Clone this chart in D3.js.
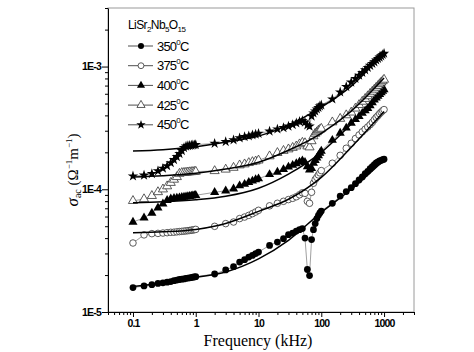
<!DOCTYPE html>
<html>
<head>
<meta charset="utf-8">
<script src="https://cdn.jsdelivr.net/npm/d3@7"></script>
<style>
  body { margin: 0; background: #fff; }
  svg { display: block; }
</style>
</head>
<body>
<svg id="chart" width="474" height="352"></svg>
<script>
// frequency (kHz), shared by all temperatures
const freq = [0.1, 0.15, 0.2, 0.25, 0.3, 0.35, 0.4, 0.45, 0.5, 0.55, 0.6, 0.65, 0.7, 0.75, 0.8, 0.85, 0.9, 0.95, 1,
  2, 3, 4, 5, 6, 7, 8, 9, 10,
  15, 20, 25, 30, 35, 40, 45, 50, 55, 60, 65, 70, 75, 80, 85, 90, 95, 100,
  150, 200, 250, 300, 350, 400, 450, 500, 550, 600, 650, 700, 750, 800, 850, 900, 950, 1000];

// sigma_ac (ohm^-1 m^-1)
const sigma350 = [1.58e-5, 1.63e-5, 1.67e-5, 1.71e-5, 1.73e-5, 1.75e-5, 1.77e-5, 1.80e-5, 1.82e-5, 1.84e-5, 1.85e-5, 1.86e-5, 1.88e-5, 1.89e-5, 1.90e-5, 1.91e-5, 1.92e-5, 1.93e-5, 1.94e-5,
  2.04e-5, 2.20e-5, 2.34e-5, 2.55e-5, 2.67e-5, 2.80e-5, 2.89e-5, 2.99e-5, 3.08e-5,
  3.49e-5, 3.71e-5, 3.96e-5, 4.27e-5, 4.40e-5, 4.57e-5, 4.69e-5, 4.78e-5, 4.00e-5, 2.22e-5, 1.98e-5, 3.89e-5, 4.69e-5, 5.25e-5, 5.77e-5, 6.13e-5, 6.41e-5, 6.65e-5,
  7.68e-5, 8.80e-5, 9.58e-5, 1.03e-4, 1.11e-4, 1.19e-4, 1.26e-4, 1.34e-4, 1.40e-4, 1.47e-4, 1.53e-4, 1.59e-4, 1.64e-4, 1.67e-4, 1.70e-4, 1.72e-4, 1.74e-4, 1.76e-4];
const sigma375 = [3.65e-5, 4.25e-5, 4.35e-5, 4.37e-5, 4.40e-5, 4.43e-5, 4.46e-5, 4.47e-5, 4.50e-5, 4.52e-5, 4.54e-5, 4.56e-5, 4.58e-5, 4.60e-5, 4.62e-5, 4.64e-5, 4.66e-5, 4.69e-5, 4.71e-5,
  4.99e-5, 5.25e-5, 5.41e-5, 5.77e-5, 5.94e-5, 6.13e-5, 6.33e-5, 6.53e-5, 6.74e-5,
  7.33e-5, 7.69e-5, 7.98e-5, 8.24e-5, 8.44e-5, 8.69e-5, 9.02e-5, 9.36e-5, 9.27e-5, 7.98e-5, 7.69e-5, 9.45e-5, 1.12e-4, 1.20e-4, 1.25e-4, 1.31e-4, 1.36e-4, 1.42e-4,
  1.63e-4, 1.89e-4, 2.16e-4, 2.37e-4, 2.59e-4, 2.77e-4, 2.94e-4, 3.09e-4, 3.22e-4, 3.36e-4, 3.51e-4, 3.69e-4, 3.85e-4, 3.98e-4, 4.13e-4, 4.25e-4, 4.37e-4, 4.46e-4];
const sigma400 = [5.41e-5, 5.85e-5, 6.40e-5, 7.06e-5, 7.62e-5, 8.13e-5, 8.37e-5, 8.44e-5, 8.49e-5, 8.54e-5, 8.59e-5, 8.64e-5, 8.69e-5, 8.74e-5, 8.77e-5, 8.82e-5, 8.87e-5, 8.90e-5, 8.93e-5,
  9.45e-5, 9.72e-5, 1.01e-4, 1.07e-4, 1.10e-4, 1.14e-4, 1.17e-4, 1.20e-4, 1.22e-4,
  1.32e-4, 1.38e-4, 1.45e-4, 1.52e-4, 1.57e-4, 1.62e-4, 1.67e-4, 1.71e-4, 1.66e-4, 1.53e-4, 1.44e-4, 1.48e-4, 1.63e-4, 1.72e-4, 1.80e-4, 1.88e-4, 1.97e-4, 2.05e-4,
  2.51e-4, 2.87e-4, 3.16e-4, 3.46e-4, 3.71e-4, 3.92e-4, 4.17e-4, 4.37e-4, 4.57e-4, 4.80e-4, 5.08e-4, 5.35e-4, 5.56e-4, 5.73e-4, 5.94e-4, 6.13e-4, 6.31e-4, 6.49e-4];
const sigma425 = [8.05e-5, 8.32e-5, 8.84e-5, 9.50e-5, 1.00e-4, 1.06e-4, 1.13e-4, 1.20e-4, 1.26e-4, 1.34e-4, 1.36e-4, 1.365e-4, 1.37e-4, 1.375e-4, 1.38e-4, 1.383e-4, 1.386e-4, 1.39e-4, 1.393e-4,
  1.41e-4, 1.45e-4, 1.50e-4, 1.57e-4, 1.60e-4, 1.64e-4, 1.67e-4, 1.69e-4, 1.72e-4,
  1.86e-4, 1.98e-4, 2.06e-4, 2.12e-4, 2.18e-4, 2.24e-4, 2.33e-4, 2.40e-4, 2.38e-4, 2.24e-4, 2.20e-4, 2.47e-4, 2.71e-4, 2.84e-4, 2.92e-4, 3.01e-4, 3.06e-4, 3.12e-4,
  3.52e-4, 3.76e-4, 4.02e-4, 4.23e-4, 4.56e-4, 4.87e-4, 5.18e-4, 5.46e-4, 5.74e-4, 6.01e-4, 6.25e-4, 6.50e-4, 6.74e-4, 6.96e-4, 7.20e-4, 7.42e-4, 7.62e-4, 7.83e-4];
const sigma450 = [1.28e-4, 1.30e-4, 1.34e-4, 1.41e-4, 1.48e-4, 1.55e-4, 1.64e-4, 1.74e-4, 1.84e-4, 1.95e-4, 2.06e-4, 2.18e-4, 2.24e-4, 2.26e-4, 2.27e-4, 2.28e-4, 2.29e-4, 2.30e-4, 2.31e-4,
  2.36e-4, 2.44e-4, 2.52e-4, 2.62e-4, 2.68e-4, 2.72e-4, 2.77e-4, 2.81e-4, 2.85e-4,
  2.97e-4, 3.09e-4, 3.17e-4, 3.26e-4, 3.36e-4, 3.46e-4, 3.56e-4, 3.62e-4, 3.52e-4, 3.33e-4, 3.26e-4, 3.94e-4, 4.17e-4, 4.33e-4, 4.50e-4, 4.63e-4, 4.76e-4, 4.85e-4,
  5.43e-4, 6.19e-4, 6.85e-4, 7.44e-4, 7.98e-4, 8.47e-4, 8.93e-4, 9.38e-4, 9.80e-4, 1.019e-3, 1.056e-3, 1.09e-3, 1.128e-3, 1.16e-3, 1.19e-3, 1.22e-3, 1.25e-3, 1.28e-3];

// fitted curves (solid black lines)
const fitFreq = [0.1, 0.3, 1, 3, 10, 30, 100, 300, 1000];
const fit350 = [1.61e-5, 1.72e-5, 1.91e-5, 2.12e-5, 2.71e-5, 3.84e-5, 6.49e-5, 1.0e-4, 1.73e-4];
const fit375 = [4.42e-5, 4.50e-5, 4.71e-5, 5.27e-5, 6.61e-5, 8.29e-5, 1.25e-4, 2.20e-4, 4.30e-4];
const fit400 = [7.76e-5, 7.90e-5, 8.21e-5, 8.77e-5, 1.02e-4, 1.33e-4, 2.00e-4, 3.40e-4, 6.43e-4];
const fit425 = [1.26e-4, 1.29e-4, 1.35e-4, 1.46e-4, 1.66e-4, 2.08e-4, 2.86e-4, 4.33e-4, 8.06e-4];
const fit450 = [2.05e-4, 2.10e-4, 2.22e-4, 2.42e-4, 2.71e-4, 3.33e-4, 4.67e-4, 6.93e-4, 1.31e-3];

const temps = ["350", "375", "400", "425", "450"];
const xTicks = [0.1, 1, 10, 100, 1000];
const yTicks = [1e-5, 1e-4, 1e-3];

const series = [
  { temp: temps[0], values: sigma350, fit: fit350, symbol: d3.symbolCircle, size: 36, filled: true },
  { temp: temps[1], values: sigma375, fit: fit375, symbol: d3.symbolCircle, size: 34, filled: false },
  { temp: temps[2], values: sigma400, fit: fit400, symbol: d3.symbolTriangle, size: 36, filled: true },
  { temp: temps[3], values: sigma425, fit: fit425, symbol: d3.symbolTriangle, size: 36, filled: false },
  { temp: temps[4], values: sigma450, fit: fit450, symbol: d3.symbolStar, size: 34, filled: true }
];

const svg = d3.select('#chart');
svg.append('rect').attr('width', 474).attr('height', 352).attr('fill', '#fff');

const plot = { left: 108, right: 414, top: 8, bottom: 312 };
const x = d3.scaleLog().domain([0.04, 3000]).range([plot.left, plot.right]);
const y = d3.scaleLog().domain([1e-5, 3e-3]).range([plot.bottom, plot.top]);

// frame (top / right are grey)
svg.append('rect')
  .attr('x', plot.left).attr('y', plot.top)
  .attr('width', plot.right - plot.left).attr('height', plot.bottom - plot.top)
  .attr('fill', 'none').attr('stroke', '#9a9a9a').attr('stroke-width', 1);

// --- axes ---
const tickFont = g => g.selectAll('text')
  .attr('font-family', 'Liberation Sans, Arial, sans-serif')
  .attr('font-weight', 'bold').attr('font-size', 10.5)
  .attr('letter-spacing', -0.8).attr('fill', '#000');

const xMinor = x.ticks().filter(d => !xTicks.some(t => Math.abs(t - d) < 1e-9));
const yMinor = y.ticks().filter(d => !yTicks.some(t => Math.abs(t - d) < 1e-12));

svg.append('g').attr('transform', `translate(0,${plot.bottom})`)
  .call(d3.axisBottom(x).tickValues(xMinor).tickSize(3).tickSizeOuter(0).tickFormat(''))
  .call(g => g.select('.domain').remove());
svg.append('g').attr('transform', `translate(0,${plot.bottom})`)
  .call(d3.axisBottom(x).tickValues(xTicks).tickSize(5).tickSizeOuter(0).tickPadding(3)
    .tickFormat(d => String(d)))
  .call(tickFont);

svg.append('g').attr('transform', `translate(${plot.left},0)`)
  .call(d3.axisLeft(y).tickValues(yMinor).tickSize(3).tickSizeOuter(0).tickFormat(''))
  .call(g => g.select('.domain').remove());
svg.append('g').attr('transform', `translate(${plot.left},0)`)
  .call(d3.axisLeft(y).tickValues(yTicks).tickSize(6).tickSizeOuter(0).tickPadding(1)
    .tickFormat(d => '1E' + Math.round(Math.log10(d))))
  .call(tickFont);

svg.selectAll('.domain, .tick line').attr('stroke', '#000').attr('stroke-width', 1);

// --- data ---
const dataLine = d3.line().x((d, i) => x(freq[i])).y(d => y(d));
const fitLine = d3.line().x((d, i) => x(fitFreq[i])).y(d => y(d)).curve(d3.curveMonotoneX);

series.forEach(s => {
  svg.append('path').attr('d', dataLine(s.values))
    .attr('fill', 'none').attr('stroke', '#777').attr('stroke-width', 0.7);
});
series.forEach(s => {
  svg.append('g').selectAll('path').data(s.values).enter()
    .append('path')
    .attr('transform', (d, i) => `translate(${x(freq[i])},${y(d)})`)
    .attr('d', d3.symbol().type(s.symbol).size(s.size))
    .attr('fill', s.filled ? '#000' : '#fff')
    .attr('stroke', s.filled ? 'none' : '#333')
    .attr('stroke-width', 0.8);
});
series.forEach(s => {
  svg.append('path').attr('d', fitLine(s.fit))
    .attr('fill', 'none').attr('stroke', '#000').attr('stroke-width', 1.5);
});

// --- legend ---
const legendFont = 'Liberation Sans, Arial, sans-serif';
const title = svg.append('text').attr('x', 128).attr('y', 29)
  .attr('font-family', legendFont).attr('font-size', 12).attr('letter-spacing', -0.6);
title.append('tspan').text('LiSr');
title.append('tspan').text('2').attr('font-size', 8).attr('dy', 3);
title.append('tspan').text('Nb').attr('dy', -3);
title.append('tspan').text('5').attr('font-size', 8).attr('dy', 3);
title.append('tspan').text('O').attr('dy', -3);
title.append('tspan').text('15').attr('font-size', 8).attr('dy', 3);

series.forEach((s, i) => {
  const ly = 46 + i * 19.7;
  svg.append('line').attr('x1', 128).attr('x2', 153).attr('y1', ly).attr('y2', ly)
    .attr('stroke', '#222').attr('stroke-width', 0.8);
  svg.append('path').attr('transform', `translate(141,${ly})`)
    .attr('d', d3.symbol().type(s.symbol).size(s.size * 0.8))
    .attr('fill', s.filled ? '#000' : '#fff')
    .attr('stroke', s.filled ? 'none' : '#333').attr('stroke-width', 0.8);
  const t = svg.append('text').attr('x', 157).attr('y', ly + 4.5)
    .attr('font-family', legendFont).attr('font-size', 13).attr('letter-spacing', -0.8);
  t.append('tspan').text(s.temp);
  t.append('tspan').text('0').attr('font-size', 8).attr('dy', -6);
  t.append('tspan').text('C').attr('dy', 6);
});

// --- axis titles ---
svg.append('text').attr('x', 258).attr('y', 346).attr('text-anchor', 'middle')
  .attr('font-family', 'Liberation Serif, Times New Roman, serif').attr('font-size', 16)
  .text('Frequency (kHz)');

const yl = svg.append('text')
  .attr('transform', 'translate(78,170) rotate(-90)')
  .attr('text-anchor', 'middle')
  .attr('font-family', 'Liberation Serif, Times New Roman, serif').attr('font-size', 15);
yl.append('tspan').text('σ').attr('font-style', 'italic').attr('font-size', 17);
yl.append('tspan').text('ac').attr('font-size', 10).attr('dy', 3);
yl.append('tspan').text(' (Ω').attr('dy', -3);
yl.append('tspan').text('−1').attr('font-size', 9).attr('dy', -6);
yl.append('tspan').text('m').attr('dy', 6);
yl.append('tspan').text('−1').attr('font-size', 9).attr('dy', -6);
yl.append('tspan').text(')').attr('dy', 6);
</script>
</body>
</html>
